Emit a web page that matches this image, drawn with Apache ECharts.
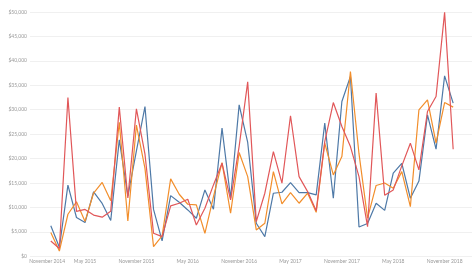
<!DOCTYPE html>
<html><head><meta charset="utf-8">
<script src="https://cdn.jsdelivr.net/npm/echarts@6/dist/echarts.min.js"></script>
<style>html,body{margin:0;padding:0;background:#fff}#c{width:474px;height:267px}</style>
</head><body><div id="c"></div>
<script>
const months = ['2015-01','2015-02','2015-03','2015-04','2015-05','2015-06','2015-07','2015-08','2015-09','2015-10','2015-11','2015-12',
'2016-01','2016-02','2016-03','2016-04','2016-05','2016-06','2016-07','2016-08','2016-09','2016-10','2016-11','2016-12',
'2017-01','2017-02','2017-03','2017-04','2017-05','2017-06','2017-07','2017-08','2017-09','2017-10','2017-11','2017-12',
'2018-01','2018-02','2018-03','2018-04','2018-05','2018-06','2018-07','2018-08','2018-09','2018-10','2018-11','2018-12'];
const furniture = [6242,1840,14574,7945,6913,13206,10821,7320,23817,12304,21565,30646,
9600,3140,12420,11070,9490,7790,13590,9630,26230,11880,31000,23300,
6760,4020,12910,13110,15080,13030,13030,12560,27250,11880,31680,36800,
6000,6700,10860,9400,17010,19000,11880,15400,28950,21920,36940,31340];
const officeSupplies = [4851,1072,8606,11155,7136,12954,15121,11380,27423,7211,26862,18006,
1970,4160,15840,12700,10650,10510,4710,12210,19180,8810,21230,16310,
5390,6760,17330,10720,13030,10860,12910,9000,23150,16660,20410,37820,
21000,7800,14500,15000,13930,17330,10160,29980,32030,23150,31470,30530];
const technology = [3143,1609,32511,9195,9600,8435,8004,9209,30537,11938,30176,20893,
4710,4020,10310,10860,11680,6410,9830,14610,19060,11540,22500,35700,
7090,12910,21430,14960,28760,16310,13240,9300,23480,31470,26560,22460,
16310,6070,33400,12500,13590,18500,23150,17680,29630,32710,49920,21920];
const tickMonths = ['2014-11','2015-05','2015-11','2016-05','2016-11','2017-05','2017-11','2018-05','2018-11'];
const tickLabels = ['November 2014','May 2015','November 2015','May 2016','November 2016','May 2017','November 2017','May 2018','November 2018'];

function idx(m){const p=m.split('-').map(Number);return (p[0]-2014)*12+p[1]-11;}
function pts(vals){return months.map((m,i)=>[idx(m),vals[i]]);}
const tickIdx = tickMonths.map(idx);
const txt = {fontSize:5,color:'#9a9a9a',fontFamily:'Lato, Arial, sans-serif'};

const chart = echarts.init(document.getElementById('c'),null,{renderer:'canvas'});
chart.setOption({
  animation:false,
  grid:{left:30,right:2,top:12,height:244.3,containLabel:false,outerBoundsMode:'none'},
  xAxis:{type:'value',min:-0.43,max:51.2,
    axisLine:{show:false},axisTick:{show:false},splitLine:{show:false},
    axisLabel:Object.assign({customValues:tickIdx,margin:3,showMinLabel:true,showMaxLabel:true,
      formatter:function(v){const k=tickIdx.indexOf(Math.round(v));if(k<0)return '';return k===0?'{a|'+tickLabels[k]+'}':tickLabels[k];},
      rich:{a:Object.assign({padding:[0,0,0,27]},txt)}},txt)},
  yAxis:{type:'value',min:0,max:50000,interval:5000,
    name:'Sales',nameLocation:'middle',nameGap:25,nameTextStyle:{fontSize:5,color:'#8a8a8a',fontFamily:'Lato, Arial, sans-serif'},
    axisLine:{show:false},axisTick:{show:false},
    splitLine:{lineStyle:{color:'#f0f0f0',width:1}},
    axisLabel:Object.assign({margin:3,formatter:function(v){return '$'+v.toLocaleString('en-US');}},txt)},
  series:[
    {name:'Furniture',type:'line',data:pts(furniture),showSymbol:false,lineStyle:{width:1.2,color:'#4e79a7'},itemStyle:{color:'#4e79a7'}},
    {name:'Office Supplies',type:'line',data:pts(officeSupplies),showSymbol:false,lineStyle:{width:1.2,color:'#f28e2b'},itemStyle:{color:'#f28e2b'}},
    {name:'Technology',type:'line',data:pts(technology),showSymbol:false,lineStyle:{width:1.2,color:'#e15759'},itemStyle:{color:'#e15759'}}
  ]
});
</script></body></html>
